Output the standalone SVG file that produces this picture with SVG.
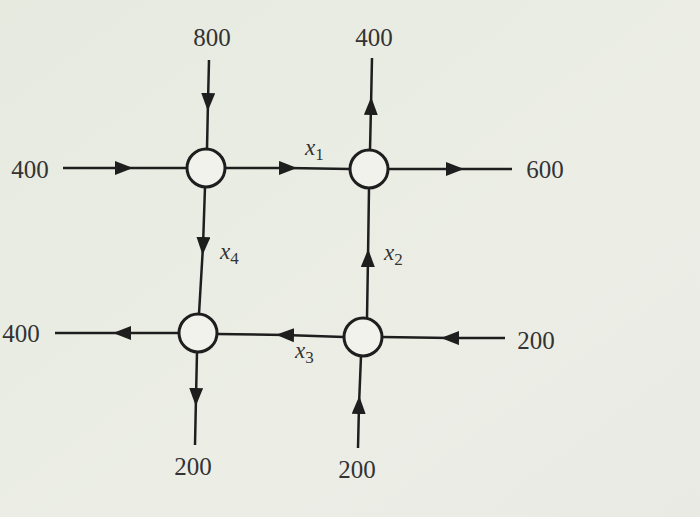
<svg xmlns="http://www.w3.org/2000/svg" width="700" height="517" viewBox="0 0 700 517">
<defs>
<linearGradient id="bg" x1="0" y1="0" x2="1" y2="1">
<stop offset="0" stop-color="#e6eadf"/>
<stop offset="0.6" stop-color="#eceee6"/>
<stop offset="1" stop-color="#e9eae4"/>
</linearGradient>
<marker id="arr" viewBox="0 0 18 14" refX="9" refY="7" markerWidth="18" markerHeight="14" markerUnits="userSpaceOnUse" orient="auto">
<path d="M0,0 L18,7 L0,14 z" fill="#1e1e1e"/>
</marker>
</defs>
<style>
.edge{fill:none;stroke:#1e1e1e;stroke-width:2.5;marker-mid:url(#arr)}
.node{fill:#f2f2ec;stroke:#1e1e1e;stroke-width:3}
.num{font-size:25px;fill:#333;text-anchor:middle}
.var{font-size:23px;font-style:italic;fill:#333}
.sub{font-size:17px;font-style:normal}
</style>
<rect width="700" height="517" fill="url(#bg)"/>
<g id="connectors">
<path class="edge" d="M209,60 L208,102 L207,149"/>
<path class="edge" d="M63,168 L124,168 L187,168"/>
<path class="edge" d="M225,168 L288,168 L350,169"/>
<path class="edge" d="M370,150 L371,106 L372,58"/>
<path class="edge" d="M388,169 L455,169 L512,169"/>
<path class="edge" d="M367,318 L368,258 L369,188"/>
<path class="edge" d="M505,338 L450,338 L382,337"/>
<path class="edge" d="M344,337 L285,335 L217,334"/>
<path class="edge" d="M179,333 L122,333 L55,333"/>
<path class="edge" d="M197,352 L196,397 L195,445"/>
<path class="edge" d="M358,448 L359,405 L361,356"/>
<path class="edge" d="M205,187 L203,246 L199,314"/>
</g>
<g id="node1"><circle class="node" cx="206" cy="168" r="19"/></g>
<g id="node2"><circle class="node" cx="369" cy="169" r="19"/></g>
<g id="node3"><circle class="node" cx="198" cy="333" r="19"/></g>
<g id="node4"><circle class="node" cx="363" cy="337" r="19"/></g>
<g id="labels" font-family="Liberation Serif, Times New Roman, serif">
<text class="num" x="212" y="46">800</text>
<text class="num" x="374" y="46">400</text>
<text class="num" x="30" y="178">400</text>
<text class="num" x="545" y="178">600</text>
<text class="num" x="21" y="342">400</text>
<text class="num" x="536" y="349">200</text>
<text class="num" x="193" y="475">200</text>
<text class="num" x="357" y="478">200</text>
<text class="var" x="305" y="155">x<tspan class="sub" dy="5">1</tspan></text>
<text class="var" x="384" y="260">x<tspan class="sub" dy="5">2</tspan></text>
<text class="var" x="295" y="358">x<tspan class="sub" dy="5">3</tspan></text>
<text class="var" x="220" y="259">x<tspan class="sub" dy="5">4</tspan></text>
</g>
</svg>
